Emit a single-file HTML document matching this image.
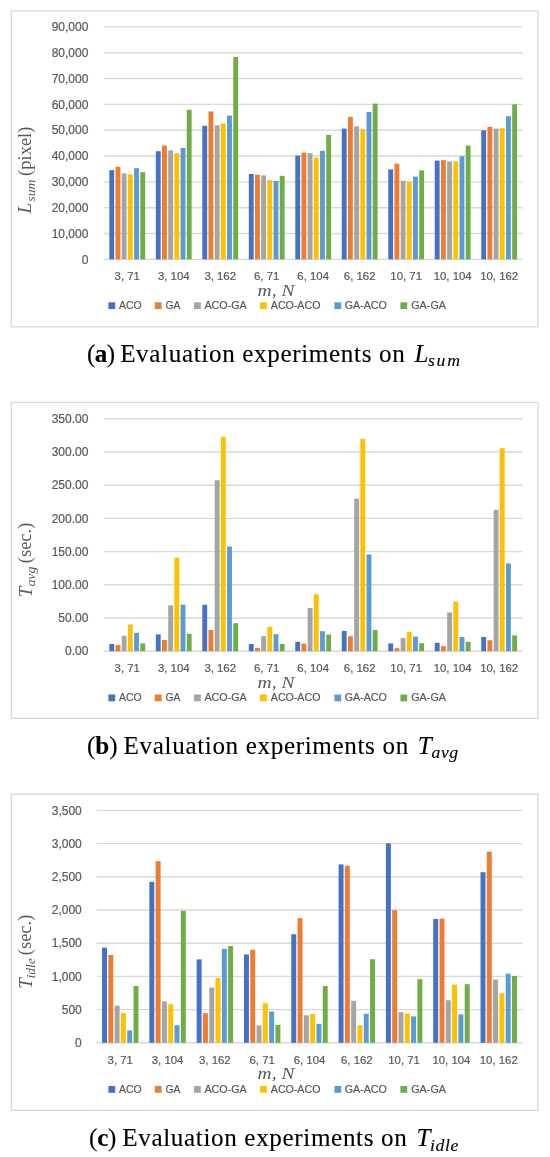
<!DOCTYPE html>
<html lang="en">
<head>
<meta charset="utf-8">
<title>Evaluation experiments</title>
<style>
html,body{margin:0;padding:0;background:#fff;}
body{width:550px;height:1157px;position:relative;overflow:hidden;font-family:"Liberation Serif",serif;}
svg{position:absolute;left:0;top:0;}
.frame{fill:none;stroke:#D9D9D9;stroke-width:1.3;}
.ax{stroke:#595959;stroke-width:0.2px;font-family:"Liberation Sans",sans-serif;font-size:11.4px;fill:#595959;}
.ay{stroke:#595959;stroke-width:0.2px;font-family:"Liberation Sans",sans-serif;font-size:12px;fill:#595959;}
.lg{stroke:#595959;stroke-width:0.2px;font-family:"Liberation Sans",sans-serif;font-size:10.8px;fill:#595959;}
.xt{font-family:"Liberation Serif",serif;font-style:italic;font-size:17px;fill:#595959;}
.ytv{font-family:"Liberation Serif",serif;font-style:italic;font-size:19px;fill:#595959;}
.yts{font-family:"Liberation Serif",serif;font-style:italic;font-size:13.5px;fill:#595959;}
.ytr{font-family:"Liberation Serif",serif;font-size:18.5px;fill:#595959;}
.ytc{font-family:"Liberation Sans",sans-serif;font-size:16.5px;fill:#595959;}
.cap{position:absolute;left:87px;white-space:nowrap;color:#000;-webkit-text-stroke:0.12px #000;transform-origin:0 0;transform:scaleX(1.03);
 font-family:"Liberation Serif",serif;font-size:24.4px;line-height:30px;letter-spacing:0.62px;}
.cap i{font-style:italic;margin-left:0.8px;}
.cap .lab{letter-spacing:-0.6px;}
.cap sub{font-size:17.2px;font-style:italic;vertical-align:baseline;position:relative;top:4.0px;line-height:0;letter-spacing:1.7px;}
</style>
</head>
<body>
<svg width="550" height="1157" viewBox="0 0 550 1157">
<g>
<rect class="frame" x="11.3" y="10.9" width="526.7" height="315.9"/>
<line x1="104.0" y1="26.90" x2="522.4" y2="26.90" stroke="#D9D9D9" stroke-width="1.4"/>
<line x1="104.0" y1="52.73" x2="522.4" y2="52.73" stroke="#D9D9D9" stroke-width="1.4"/>
<line x1="104.0" y1="78.57" x2="522.4" y2="78.57" stroke="#D9D9D9" stroke-width="1.4"/>
<line x1="104.0" y1="104.40" x2="522.4" y2="104.40" stroke="#D9D9D9" stroke-width="1.4"/>
<line x1="104.0" y1="130.23" x2="522.4" y2="130.23" stroke="#D9D9D9" stroke-width="1.4"/>
<line x1="104.0" y1="156.07" x2="522.4" y2="156.07" stroke="#D9D9D9" stroke-width="1.4"/>
<line x1="104.0" y1="181.90" x2="522.4" y2="181.90" stroke="#D9D9D9" stroke-width="1.4"/>
<line x1="104.0" y1="207.73" x2="522.4" y2="207.73" stroke="#D9D9D9" stroke-width="1.4"/>
<line x1="104.0" y1="233.57" x2="522.4" y2="233.57" stroke="#D9D9D9" stroke-width="1.4"/>
<line x1="104.0" y1="259.40" x2="522.4" y2="259.40" stroke="#D9D9D9" stroke-width="1.4"/>
<text x="88.4" y="31.10" text-anchor="end" class="ay">90,000</text>
<text x="88.4" y="56.93" text-anchor="end" class="ay">80,000</text>
<text x="88.4" y="82.77" text-anchor="end" class="ay">70,000</text>
<text x="88.4" y="108.60" text-anchor="end" class="ay">60,000</text>
<text x="88.4" y="134.43" text-anchor="end" class="ay">50,000</text>
<text x="88.4" y="160.27" text-anchor="end" class="ay">40,000</text>
<text x="88.4" y="186.10" text-anchor="end" class="ay">30,000</text>
<text x="88.4" y="211.93" text-anchor="end" class="ay">20,000</text>
<text x="88.4" y="237.77" text-anchor="end" class="ay">10,000</text>
<text x="88.4" y="263.60" text-anchor="end" class="ay">0</text>
<rect x="109.34" y="170.20" width="4.87" height="89.20" fill="#4472C4"/>
<rect x="115.52" y="166.80" width="4.87" height="92.60" fill="#ED7D31"/>
<rect x="121.71" y="173.40" width="4.87" height="86.00" fill="#A5A5A5"/>
<rect x="127.90" y="174.40" width="4.87" height="85.00" fill="#FFC000"/>
<rect x="134.09" y="168.20" width="4.87" height="91.20" fill="#5B9BD5"/>
<rect x="140.28" y="172.20" width="4.87" height="87.20" fill="#70AD47"/>
<rect x="155.82" y="151.20" width="4.87" height="108.20" fill="#4472C4"/>
<rect x="162.01" y="145.60" width="4.87" height="113.80" fill="#ED7D31"/>
<rect x="168.20" y="150.40" width="4.87" height="109.00" fill="#A5A5A5"/>
<rect x="174.39" y="153.20" width="4.87" height="106.20" fill="#FFC000"/>
<rect x="180.58" y="148.00" width="4.87" height="111.40" fill="#5B9BD5"/>
<rect x="186.77" y="109.80" width="4.87" height="149.60" fill="#70AD47"/>
<rect x="202.31" y="125.80" width="4.87" height="133.60" fill="#4472C4"/>
<rect x="208.50" y="111.40" width="4.87" height="148.00" fill="#ED7D31"/>
<rect x="214.69" y="125.20" width="4.87" height="134.20" fill="#A5A5A5"/>
<rect x="220.88" y="123.40" width="4.87" height="136.00" fill="#FFC000"/>
<rect x="227.07" y="115.60" width="4.87" height="143.80" fill="#5B9BD5"/>
<rect x="233.26" y="57.00" width="4.87" height="202.40" fill="#70AD47"/>
<rect x="248.80" y="174.00" width="4.87" height="85.40" fill="#4472C4"/>
<rect x="254.99" y="174.80" width="4.87" height="84.60" fill="#ED7D31"/>
<rect x="261.18" y="175.40" width="4.87" height="84.00" fill="#A5A5A5"/>
<rect x="267.37" y="180.20" width="4.87" height="79.20" fill="#FFC000"/>
<rect x="273.56" y="181.00" width="4.87" height="78.40" fill="#5B9BD5"/>
<rect x="279.75" y="175.80" width="4.87" height="83.60" fill="#70AD47"/>
<rect x="295.29" y="155.60" width="4.87" height="103.80" fill="#4472C4"/>
<rect x="301.48" y="152.60" width="4.87" height="106.80" fill="#ED7D31"/>
<rect x="307.67" y="153.20" width="4.87" height="106.20" fill="#A5A5A5"/>
<rect x="313.86" y="157.60" width="4.87" height="101.80" fill="#FFC000"/>
<rect x="320.05" y="150.80" width="4.87" height="108.60" fill="#5B9BD5"/>
<rect x="326.24" y="134.80" width="4.87" height="124.60" fill="#70AD47"/>
<rect x="341.78" y="128.60" width="4.87" height="130.80" fill="#4472C4"/>
<rect x="347.97" y="116.80" width="4.87" height="142.60" fill="#ED7D31"/>
<rect x="354.16" y="126.40" width="4.87" height="133.00" fill="#A5A5A5"/>
<rect x="360.35" y="129.20" width="4.87" height="130.20" fill="#FFC000"/>
<rect x="366.54" y="112.00" width="4.87" height="147.40" fill="#5B9BD5"/>
<rect x="372.72" y="103.60" width="4.87" height="155.80" fill="#70AD47"/>
<rect x="388.27" y="169.40" width="4.87" height="90.00" fill="#4472C4"/>
<rect x="394.46" y="163.60" width="4.87" height="95.80" fill="#ED7D31"/>
<rect x="400.65" y="180.80" width="4.87" height="78.60" fill="#A5A5A5"/>
<rect x="406.84" y="181.80" width="4.87" height="77.60" fill="#FFC000"/>
<rect x="413.02" y="176.60" width="4.87" height="82.80" fill="#5B9BD5"/>
<rect x="419.21" y="170.40" width="4.87" height="89.00" fill="#70AD47"/>
<rect x="434.76" y="160.60" width="4.87" height="98.80" fill="#4472C4"/>
<rect x="440.95" y="160.20" width="4.87" height="99.20" fill="#ED7D31"/>
<rect x="447.14" y="161.40" width="4.87" height="98.00" fill="#A5A5A5"/>
<rect x="453.32" y="161.40" width="4.87" height="98.00" fill="#FFC000"/>
<rect x="459.51" y="156.20" width="4.87" height="103.20" fill="#5B9BD5"/>
<rect x="465.70" y="145.60" width="4.87" height="113.80" fill="#70AD47"/>
<rect x="481.25" y="130.40" width="4.87" height="129.00" fill="#4472C4"/>
<rect x="487.44" y="126.80" width="4.87" height="132.60" fill="#ED7D31"/>
<rect x="493.62" y="128.60" width="4.87" height="130.80" fill="#A5A5A5"/>
<rect x="499.81" y="128.20" width="4.87" height="131.20" fill="#FFC000"/>
<rect x="506.00" y="116.20" width="4.87" height="143.20" fill="#5B9BD5"/>
<rect x="512.19" y="104.40" width="4.87" height="155.00" fill="#70AD47"/>
<text x="127.24" y="280.00" text-anchor="middle" class="ax">3, 71</text>
<text x="173.73" y="280.00" text-anchor="middle" class="ax">3, 104</text>
<text x="220.22" y="280.00" text-anchor="middle" class="ax">3, 162</text>
<text x="266.71" y="280.00" text-anchor="middle" class="ax">6, 71</text>
<text x="313.20" y="280.00" text-anchor="middle" class="ax">6, 104</text>
<text x="359.69" y="280.00" text-anchor="middle" class="ax">6, 162</text>
<text x="406.18" y="280.00" text-anchor="middle" class="ax">10, 71</text>
<text x="452.67" y="280.00" text-anchor="middle" class="ax">10, 104</text>
<text x="499.16" y="280.00" text-anchor="middle" class="ax">10, 162</text>
<text x="257.6" y="295.70" class="xt" textLength="36.8" lengthAdjust="spacingAndGlyphs">m, N</text>
<rect x="108.4" y="302.30" width="6.8" height="6.8" fill="#4472C4"/>
<text x="119.0" y="309.20" class="lg" textLength="22.6" lengthAdjust="spacingAndGlyphs">ACO</text>
<rect x="154.8" y="302.30" width="6.8" height="6.8" fill="#ED7D31"/>
<text x="165.6" y="309.20" class="lg" textLength="14.8" lengthAdjust="spacingAndGlyphs">GA</text>
<rect x="194.0" y="302.30" width="6.8" height="6.8" fill="#A5A5A5"/>
<text x="204.4" y="309.20" class="lg" textLength="42.4" lengthAdjust="spacingAndGlyphs">ACO-GA</text>
<rect x="260.0" y="302.30" width="6.8" height="6.8" fill="#FFC000"/>
<text x="270.8" y="309.20" class="lg" textLength="49.6" lengthAdjust="spacingAndGlyphs">ACO-ACO</text>
<rect x="334.4" y="302.30" width="6.8" height="6.8" fill="#5B9BD5"/>
<text x="344.8" y="309.20" class="lg" textLength="42" lengthAdjust="spacingAndGlyphs">GA-ACO</text>
<rect x="400.4" y="302.30" width="6.8" height="6.8" fill="#70AD47"/>
<text x="411.2" y="309.20" class="lg" textLength="34.8" lengthAdjust="spacingAndGlyphs">GA-GA</text>
<text transform="translate(31.30 213.50) rotate(-90)" class="ytv">L</text>
<text transform="translate(35.00 201.70) rotate(-90)" class="yts" textLength="22.2" lengthAdjust="spacingAndGlyphs">sum</text>
<text transform="translate(31.10 175.90) rotate(-90)" class="ytr">(pixel)</text>
</g>
<g>
<rect class="frame" x="11.3" y="402.45" width="526.7" height="315.9"/>
<line x1="104.0" y1="418.80" x2="522.4" y2="418.80" stroke="#D9D9D9" stroke-width="1.4"/>
<line x1="104.0" y1="452.00" x2="522.4" y2="452.00" stroke="#D9D9D9" stroke-width="1.4"/>
<line x1="104.0" y1="485.20" x2="522.4" y2="485.20" stroke="#D9D9D9" stroke-width="1.4"/>
<line x1="104.0" y1="518.40" x2="522.4" y2="518.40" stroke="#D9D9D9" stroke-width="1.4"/>
<line x1="104.0" y1="551.60" x2="522.4" y2="551.60" stroke="#D9D9D9" stroke-width="1.4"/>
<line x1="104.0" y1="584.80" x2="522.4" y2="584.80" stroke="#D9D9D9" stroke-width="1.4"/>
<line x1="104.0" y1="618.00" x2="522.4" y2="618.00" stroke="#D9D9D9" stroke-width="1.4"/>
<line x1="104.0" y1="651.20" x2="522.4" y2="651.20" stroke="#D9D9D9" stroke-width="1.4"/>
<text x="88.4" y="423.00" text-anchor="end" class="ay">350.00</text>
<text x="88.4" y="456.20" text-anchor="end" class="ay">300.00</text>
<text x="88.4" y="489.40" text-anchor="end" class="ay">250.00</text>
<text x="88.4" y="522.60" text-anchor="end" class="ay">200.00</text>
<text x="88.4" y="555.80" text-anchor="end" class="ay">150.00</text>
<text x="88.4" y="589.00" text-anchor="end" class="ay">100.00</text>
<text x="88.4" y="622.20" text-anchor="end" class="ay">50.00</text>
<text x="88.4" y="655.40" text-anchor="end" class="ay">0.00</text>
<rect x="109.34" y="644.00" width="4.87" height="7.20" fill="#4472C4"/>
<rect x="115.52" y="645.20" width="4.87" height="6.00" fill="#ED7D31"/>
<rect x="121.71" y="635.80" width="4.87" height="15.40" fill="#A5A5A5"/>
<rect x="127.90" y="624.40" width="4.87" height="26.80" fill="#FFC000"/>
<rect x="134.09" y="632.80" width="4.87" height="18.40" fill="#5B9BD5"/>
<rect x="140.28" y="643.40" width="4.87" height="7.80" fill="#70AD47"/>
<rect x="155.82" y="634.40" width="4.87" height="16.80" fill="#4472C4"/>
<rect x="162.01" y="640.00" width="4.87" height="11.20" fill="#ED7D31"/>
<rect x="168.20" y="605.40" width="4.87" height="45.80" fill="#A5A5A5"/>
<rect x="174.39" y="557.60" width="4.87" height="93.60" fill="#FFC000"/>
<rect x="180.58" y="604.60" width="4.87" height="46.60" fill="#5B9BD5"/>
<rect x="186.77" y="633.80" width="4.87" height="17.40" fill="#70AD47"/>
<rect x="202.31" y="604.80" width="4.87" height="46.40" fill="#4472C4"/>
<rect x="208.50" y="630.00" width="4.87" height="21.20" fill="#ED7D31"/>
<rect x="214.69" y="480.20" width="4.87" height="171.00" fill="#A5A5A5"/>
<rect x="220.88" y="436.80" width="4.87" height="214.40" fill="#FFC000"/>
<rect x="227.07" y="546.60" width="4.87" height="104.60" fill="#5B9BD5"/>
<rect x="233.26" y="623.20" width="4.87" height="28.00" fill="#70AD47"/>
<rect x="248.80" y="644.00" width="4.87" height="7.20" fill="#4472C4"/>
<rect x="254.99" y="648.00" width="4.87" height="3.20" fill="#ED7D31"/>
<rect x="261.18" y="636.20" width="4.87" height="15.00" fill="#A5A5A5"/>
<rect x="267.37" y="626.80" width="4.87" height="24.40" fill="#FFC000"/>
<rect x="273.56" y="634.20" width="4.87" height="17.00" fill="#5B9BD5"/>
<rect x="279.75" y="644.00" width="4.87" height="7.20" fill="#70AD47"/>
<rect x="295.29" y="641.80" width="4.87" height="9.40" fill="#4472C4"/>
<rect x="301.48" y="643.60" width="4.87" height="7.60" fill="#ED7D31"/>
<rect x="307.67" y="608.00" width="4.87" height="43.20" fill="#A5A5A5"/>
<rect x="313.86" y="594.40" width="4.87" height="56.80" fill="#FFC000"/>
<rect x="320.05" y="631.20" width="4.87" height="20.00" fill="#5B9BD5"/>
<rect x="326.24" y="634.60" width="4.87" height="16.60" fill="#70AD47"/>
<rect x="341.78" y="631.00" width="4.87" height="20.20" fill="#4472C4"/>
<rect x="347.97" y="636.20" width="4.87" height="15.00" fill="#ED7D31"/>
<rect x="354.16" y="498.60" width="4.87" height="152.60" fill="#A5A5A5"/>
<rect x="360.35" y="439.00" width="4.87" height="212.20" fill="#FFC000"/>
<rect x="366.54" y="554.40" width="4.87" height="96.80" fill="#5B9BD5"/>
<rect x="372.72" y="630.00" width="4.87" height="21.20" fill="#70AD47"/>
<rect x="388.27" y="643.40" width="4.87" height="7.80" fill="#4472C4"/>
<rect x="394.46" y="648.20" width="4.87" height="3.00" fill="#ED7D31"/>
<rect x="400.65" y="638.00" width="4.87" height="13.20" fill="#A5A5A5"/>
<rect x="406.84" y="632.00" width="4.87" height="19.20" fill="#FFC000"/>
<rect x="413.02" y="636.60" width="4.87" height="14.60" fill="#5B9BD5"/>
<rect x="419.21" y="643.20" width="4.87" height="8.00" fill="#70AD47"/>
<rect x="434.76" y="642.80" width="4.87" height="8.40" fill="#4472C4"/>
<rect x="440.95" y="646.20" width="4.87" height="5.00" fill="#ED7D31"/>
<rect x="447.14" y="612.40" width="4.87" height="38.80" fill="#A5A5A5"/>
<rect x="453.32" y="601.60" width="4.87" height="49.60" fill="#FFC000"/>
<rect x="459.51" y="637.00" width="4.87" height="14.20" fill="#5B9BD5"/>
<rect x="465.70" y="641.80" width="4.87" height="9.40" fill="#70AD47"/>
<rect x="481.25" y="637.00" width="4.87" height="14.20" fill="#4472C4"/>
<rect x="487.44" y="640.20" width="4.87" height="11.00" fill="#ED7D31"/>
<rect x="493.62" y="509.80" width="4.87" height="141.40" fill="#A5A5A5"/>
<rect x="499.81" y="448.20" width="4.87" height="203.00" fill="#FFC000"/>
<rect x="506.00" y="563.40" width="4.87" height="87.80" fill="#5B9BD5"/>
<rect x="512.19" y="635.40" width="4.87" height="15.80" fill="#70AD47"/>
<text x="127.24" y="672.00" text-anchor="middle" class="ax">3, 71</text>
<text x="173.73" y="672.00" text-anchor="middle" class="ax">3, 104</text>
<text x="220.22" y="672.00" text-anchor="middle" class="ax">3, 162</text>
<text x="266.71" y="672.00" text-anchor="middle" class="ax">6, 71</text>
<text x="313.20" y="672.00" text-anchor="middle" class="ax">6, 104</text>
<text x="359.69" y="672.00" text-anchor="middle" class="ax">6, 162</text>
<text x="406.18" y="672.00" text-anchor="middle" class="ax">10, 71</text>
<text x="452.67" y="672.00" text-anchor="middle" class="ax">10, 104</text>
<text x="499.16" y="672.00" text-anchor="middle" class="ax">10, 162</text>
<text x="257.6" y="687.50" class="xt" textLength="36.8" lengthAdjust="spacingAndGlyphs">m, N</text>
<rect x="108.4" y="694.50" width="6.8" height="6.8" fill="#4472C4"/>
<text x="119.0" y="701.40" class="lg" textLength="22.6" lengthAdjust="spacingAndGlyphs">ACO</text>
<rect x="154.8" y="694.50" width="6.8" height="6.8" fill="#ED7D31"/>
<text x="165.6" y="701.40" class="lg" textLength="14.8" lengthAdjust="spacingAndGlyphs">GA</text>
<rect x="194.0" y="694.50" width="6.8" height="6.8" fill="#A5A5A5"/>
<text x="204.4" y="701.40" class="lg" textLength="42.4" lengthAdjust="spacingAndGlyphs">ACO-GA</text>
<rect x="260.0" y="694.50" width="6.8" height="6.8" fill="#FFC000"/>
<text x="270.8" y="701.40" class="lg" textLength="49.6" lengthAdjust="spacingAndGlyphs">ACO-ACO</text>
<rect x="334.4" y="694.50" width="6.8" height="6.8" fill="#5B9BD5"/>
<text x="344.8" y="701.40" class="lg" textLength="42" lengthAdjust="spacingAndGlyphs">GA-ACO</text>
<rect x="400.4" y="694.50" width="6.8" height="6.8" fill="#70AD47"/>
<text x="411.2" y="701.40" class="lg" textLength="34.8" lengthAdjust="spacingAndGlyphs">GA-GA</text>
<text transform="translate(31.80 597.30) rotate(-90)" class="ytv">T</text>
<text transform="translate(34.80 586.60) rotate(-90)" class="yts" textLength="20" lengthAdjust="spacingAndGlyphs">avg</text>
<text transform="translate(31.40 563.20) rotate(-90)" class="ytr">(sec.)</text>
</g>
<g>
<rect class="frame" x="11.3" y="794.2" width="526.7" height="316.15"/>
<line x1="96.6" y1="810.40" x2="522.4" y2="810.40" stroke="#D9D9D9" stroke-width="1.4"/>
<line x1="96.6" y1="843.60" x2="522.4" y2="843.60" stroke="#D9D9D9" stroke-width="1.4"/>
<line x1="96.6" y1="876.80" x2="522.4" y2="876.80" stroke="#D9D9D9" stroke-width="1.4"/>
<line x1="96.6" y1="910.00" x2="522.4" y2="910.00" stroke="#D9D9D9" stroke-width="1.4"/>
<line x1="96.6" y1="943.20" x2="522.4" y2="943.20" stroke="#D9D9D9" stroke-width="1.4"/>
<line x1="96.6" y1="976.40" x2="522.4" y2="976.40" stroke="#D9D9D9" stroke-width="1.4"/>
<line x1="96.6" y1="1009.60" x2="522.4" y2="1009.60" stroke="#D9D9D9" stroke-width="1.4"/>
<line x1="96.6" y1="1042.80" x2="522.4" y2="1042.80" stroke="#D9D9D9" stroke-width="1.4"/>
<text x="81.8" y="814.60" text-anchor="end" class="ay">3,500</text>
<text x="81.8" y="847.80" text-anchor="end" class="ay">3,000</text>
<text x="81.8" y="881.00" text-anchor="end" class="ay">2,500</text>
<text x="81.8" y="914.20" text-anchor="end" class="ay">2,000</text>
<text x="81.8" y="947.40" text-anchor="end" class="ay">1,500</text>
<text x="81.8" y="980.60" text-anchor="end" class="ay">1,000</text>
<text x="81.8" y="1013.80" text-anchor="end" class="ay">500</text>
<text x="81.8" y="1047.00" text-anchor="end" class="ay">0</text>
<rect x="102.03" y="947.60" width="4.96" height="95.20" fill="#4472C4"/>
<rect x="108.33" y="955.00" width="4.96" height="87.80" fill="#ED7D31"/>
<rect x="114.63" y="1005.60" width="4.96" height="37.20" fill="#A5A5A5"/>
<rect x="120.93" y="1013.20" width="4.96" height="29.60" fill="#FFC000"/>
<rect x="127.22" y="1030.40" width="4.96" height="12.40" fill="#5B9BD5"/>
<rect x="133.52" y="986.00" width="4.96" height="56.80" fill="#70AD47"/>
<rect x="149.34" y="881.80" width="4.96" height="161.00" fill="#4472C4"/>
<rect x="155.64" y="861.20" width="4.96" height="181.60" fill="#ED7D31"/>
<rect x="161.94" y="1001.40" width="4.96" height="41.40" fill="#A5A5A5"/>
<rect x="168.24" y="1004.20" width="4.96" height="38.60" fill="#FFC000"/>
<rect x="174.53" y="1025.20" width="4.96" height="17.60" fill="#5B9BD5"/>
<rect x="180.83" y="910.80" width="4.96" height="132.00" fill="#70AD47"/>
<rect x="196.65" y="959.40" width="4.96" height="83.40" fill="#4472C4"/>
<rect x="202.95" y="1013.20" width="4.96" height="29.60" fill="#ED7D31"/>
<rect x="209.25" y="987.60" width="4.96" height="55.20" fill="#A5A5A5"/>
<rect x="215.55" y="978.00" width="4.96" height="64.80" fill="#FFC000"/>
<rect x="221.85" y="948.80" width="4.96" height="94.00" fill="#5B9BD5"/>
<rect x="228.14" y="946.00" width="4.96" height="96.80" fill="#70AD47"/>
<rect x="243.96" y="954.40" width="4.96" height="88.40" fill="#4472C4"/>
<rect x="250.26" y="949.80" width="4.96" height="93.00" fill="#ED7D31"/>
<rect x="256.56" y="1025.40" width="4.96" height="17.40" fill="#A5A5A5"/>
<rect x="262.86" y="1003.20" width="4.96" height="39.60" fill="#FFC000"/>
<rect x="269.16" y="1011.60" width="4.96" height="31.20" fill="#5B9BD5"/>
<rect x="275.45" y="1024.80" width="4.96" height="18.00" fill="#70AD47"/>
<rect x="291.27" y="934.20" width="4.96" height="108.60" fill="#4472C4"/>
<rect x="297.57" y="918.20" width="4.96" height="124.60" fill="#ED7D31"/>
<rect x="303.87" y="1015.20" width="4.96" height="27.60" fill="#A5A5A5"/>
<rect x="310.17" y="1014.00" width="4.96" height="28.80" fill="#FFC000"/>
<rect x="316.47" y="1023.80" width="4.96" height="19.00" fill="#5B9BD5"/>
<rect x="322.77" y="986.00" width="4.96" height="56.80" fill="#70AD47"/>
<rect x="338.59" y="864.40" width="4.96" height="178.40" fill="#4472C4"/>
<rect x="344.88" y="865.80" width="4.96" height="177.00" fill="#ED7D31"/>
<rect x="351.18" y="1000.80" width="4.96" height="42.00" fill="#A5A5A5"/>
<rect x="357.48" y="1025.40" width="4.96" height="17.40" fill="#FFC000"/>
<rect x="363.78" y="1013.80" width="4.96" height="29.00" fill="#5B9BD5"/>
<rect x="370.08" y="959.20" width="4.96" height="83.60" fill="#70AD47"/>
<rect x="385.90" y="843.40" width="4.96" height="199.40" fill="#4472C4"/>
<rect x="392.20" y="910.20" width="4.96" height="132.60" fill="#ED7D31"/>
<rect x="398.49" y="1012.20" width="4.96" height="30.60" fill="#A5A5A5"/>
<rect x="404.79" y="1013.40" width="4.96" height="29.40" fill="#FFC000"/>
<rect x="411.09" y="1016.40" width="4.96" height="26.40" fill="#5B9BD5"/>
<rect x="417.39" y="979.20" width="4.96" height="63.60" fill="#70AD47"/>
<rect x="433.21" y="919.00" width="4.96" height="123.80" fill="#4472C4"/>
<rect x="439.51" y="918.60" width="4.96" height="124.20" fill="#ED7D31"/>
<rect x="445.80" y="1000.20" width="4.96" height="42.60" fill="#A5A5A5"/>
<rect x="452.10" y="984.60" width="4.96" height="58.20" fill="#FFC000"/>
<rect x="458.40" y="1014.40" width="4.96" height="28.40" fill="#5B9BD5"/>
<rect x="464.70" y="984.20" width="4.96" height="58.60" fill="#70AD47"/>
<rect x="480.52" y="872.20" width="4.96" height="170.60" fill="#4472C4"/>
<rect x="486.82" y="851.60" width="4.96" height="191.20" fill="#ED7D31"/>
<rect x="493.12" y="979.60" width="4.96" height="63.20" fill="#A5A5A5"/>
<rect x="499.41" y="993.20" width="4.96" height="49.60" fill="#FFC000"/>
<rect x="505.71" y="973.60" width="4.96" height="69.20" fill="#5B9BD5"/>
<rect x="512.01" y="976.00" width="4.96" height="66.80" fill="#70AD47"/>
<text x="120.26" y="1064.40" text-anchor="middle" class="ax">3, 71</text>
<text x="167.57" y="1064.40" text-anchor="middle" class="ax">3, 104</text>
<text x="214.88" y="1064.40" text-anchor="middle" class="ax">3, 162</text>
<text x="262.19" y="1064.40" text-anchor="middle" class="ax">6, 71</text>
<text x="309.50" y="1064.40" text-anchor="middle" class="ax">6, 104</text>
<text x="356.81" y="1064.40" text-anchor="middle" class="ax">6, 162</text>
<text x="404.12" y="1064.40" text-anchor="middle" class="ax">10, 71</text>
<text x="451.43" y="1064.40" text-anchor="middle" class="ax">10, 104</text>
<text x="498.74" y="1064.40" text-anchor="middle" class="ax">10, 162</text>
<text x="257.6" y="1079.10" class="xt" textLength="36.8" lengthAdjust="spacingAndGlyphs">m, N</text>
<rect x="108.4" y="1086.00" width="6.8" height="6.8" fill="#4472C4"/>
<text x="119.0" y="1092.90" class="lg" textLength="22.6" lengthAdjust="spacingAndGlyphs">ACO</text>
<rect x="154.8" y="1086.00" width="6.8" height="6.8" fill="#ED7D31"/>
<text x="165.6" y="1092.90" class="lg" textLength="14.8" lengthAdjust="spacingAndGlyphs">GA</text>
<rect x="194.0" y="1086.00" width="6.8" height="6.8" fill="#A5A5A5"/>
<text x="204.4" y="1092.90" class="lg" textLength="42.4" lengthAdjust="spacingAndGlyphs">ACO-GA</text>
<rect x="260.0" y="1086.00" width="6.8" height="6.8" fill="#FFC000"/>
<text x="270.8" y="1092.90" class="lg" textLength="49.6" lengthAdjust="spacingAndGlyphs">ACO-ACO</text>
<rect x="334.4" y="1086.00" width="6.8" height="6.8" fill="#5B9BD5"/>
<text x="344.8" y="1092.90" class="lg" textLength="42" lengthAdjust="spacingAndGlyphs">GA-ACO</text>
<rect x="400.4" y="1086.00" width="6.8" height="6.8" fill="#70AD47"/>
<text x="411.2" y="1092.90" class="lg" textLength="34.8" lengthAdjust="spacingAndGlyphs">GA-GA</text>
<text transform="translate(31.80 988.80) rotate(-90)" class="ytv">T</text>
<text transform="translate(34.80 978.60) rotate(-90)" class="yts" textLength="20.5" lengthAdjust="spacingAndGlyphs">idle</text>
<text transform="translate(31.40 955.20) rotate(-90)" class="ytr">(sec.)</text>
</g>
</svg>
<div class="cap" style="top:339.2px;left:87.0px"><span class="lab" style="letter-spacing:-0.6px">(<b>a</b>) </span>Evaluation experiments on <i style="margin-left:2.0px">L</i><sub style="letter-spacing:1.7px;margin-left:-1.0px;top:4.3px">sum</sub></div>
<div class="cap" style="top:731.1px;left:87.0px"><span class="lab" style="letter-spacing:-0.1px">(<b>b</b>) </span>Evaluation experiments on <i style="margin-left:2.0px">T</i><sub style="letter-spacing:0.6px;margin-left:-1.0px;top:4.4px">avg</sub></div>
<div class="cap" style="top:1123.2px;left:88.6px"><span class="lab" style="letter-spacing:-0.24px">(<b>c</b>) </span>Evaluation experiments on <i style="margin-left:2.0px">T</i><sub style="letter-spacing:0.55px;margin-left:-1.0px;top:5.0px">idle</sub></div>
</body>
</html>
